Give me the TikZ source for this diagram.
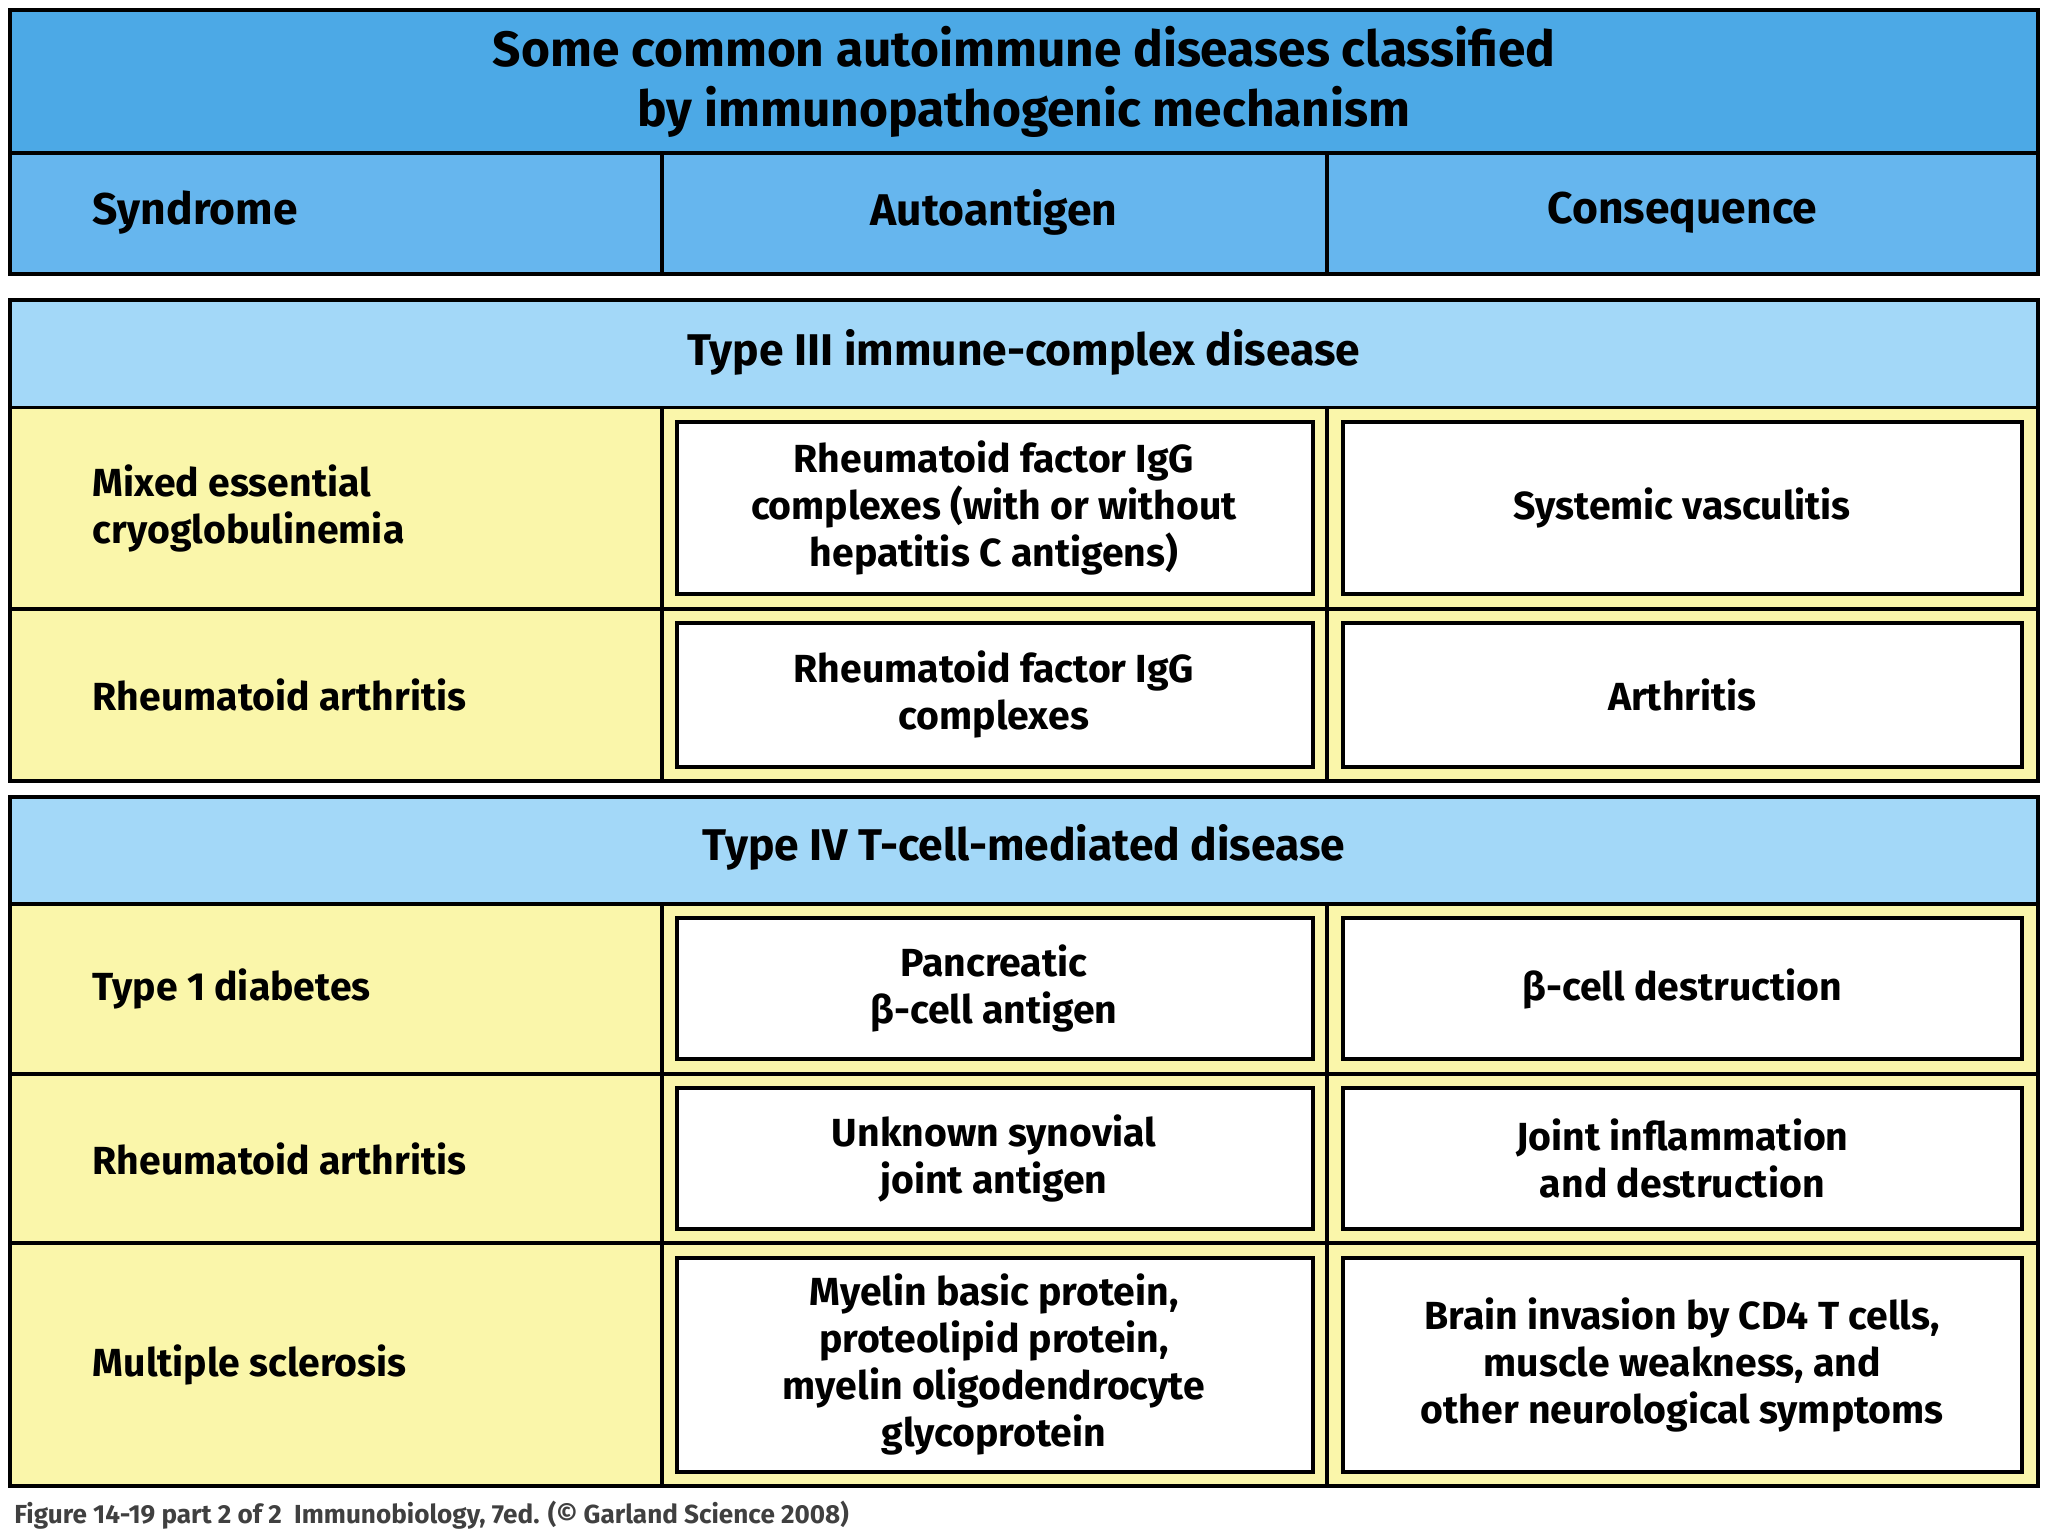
\documentclass[tikz,border=0pt]{standalone}
\usepackage{fontspec}
\setmainfont{Fira Sans}
\definecolor{tblue}{HTML}{4CA9E6}
\definecolor{hblue}{HTML}{66B6EE}
\definecolor{sblue}{HTML}{A3D8F8}
\definecolor{yel}{HTML}{FAF6AA}
\begin{document}
\begin{tikzpicture}[x=0.5pt,y=-0.5pt,
  frame/.style={draw=black,line width=1.5pt},
  inner/.style={draw=black,line width=1.5pt,fill=white},
  txt/.style={font=\fontsize{15}{18}\selectfont\bfseries,align=center},
  ltxt/.style={font=\fontsize{15}{18}\selectfont\bfseries,align=left,anchor=west}]
\useasboundingbox (0,0) rectangle (1568,1176);
\fill[white] (0,0) rectangle (1568,1176);
% title and header
\filldraw[frame,fill=tblue] (8,8) rectangle (1560,117);
\node[font=\fontsize{19}{23}\selectfont\bfseries,align=center] (title) at (784,63) {Some common autoimmune diseases classified\\by immunopathogenic mechanism};
\filldraw[frame,fill=hblue] (8,117) rectangle (507,210);
\filldraw[frame,fill=hblue] (507,117) rectangle (1016,210);
\filldraw[frame,fill=hblue] (1016,117) rectangle (1560,210);
\node[font=\fontsize{17}{20}\selectfont\bfseries,anchor=west] (h1) at (64,163) {Syndrome};
\node[font=\fontsize{17}{20}\selectfont\bfseries] (h2) at (761,163) {Autoantigen};
\node[font=\fontsize{17}{20}\selectfont\bfseries] (h3) at (1288,163) {Consequence};
% section helper rows
\def\trow#1#2#3#4#5#6{%
  \filldraw[frame,fill=yel] (8,#1) rectangle (507,#2);
  \filldraw[frame,fill=yel] (507,#1) rectangle (1016,#2);
  \filldraw[frame,fill=yel] (1016,#1) rectangle (1560,#2);
  \filldraw[inner] (518,#1+11) rectangle (1005,#2-11);
  \filldraw[inner] (1028,#1+11) rectangle (1548,#2-11);
  \node[ltxt] at (64,{(#1+#2)/2}) {#3};
  \node[txt] at (761,{(#1+#2)/2}) {#4};
  \node[txt] at (1288,{(#1+#2)/2}) {#5};}
% Type III
\filldraw[frame,fill=sblue] (8,230) rectangle (1560,312);
\node[font=\fontsize{17}{20}\selectfont\bfseries] (s3) at (784,270) {Type III immune-complex disease};
\trow{312}{466}{Mixed essential\\cryoglobulinemia}{Rheumatoid factor IgG\\complexes (with or without\\hepatitis C antigens)}{Systemic vasculitis}{}
\trow{466}{598}{Rheumatoid arthritis}{Rheumatoid factor IgG\\complexes}{Arthritis}{}
% Type IV
\filldraw[frame,fill=sblue] (8,610) rectangle (1560,692);
\node[font=\fontsize{17}{20}\selectfont\bfseries] (s4) at (784,649) {Type IV T-cell-mediated disease};
\trow{692}{822}{Type 1 diabetes}{Pancreatic\\β-cell antigen}{β-cell destruction}{}
\trow{822}{952}{Rheumatoid arthritis}{Unknown synovial\\joint antigen}{Joint inflammation\\and destruction}{}
\trow{952}{1138}{Multiple sclerosis}{Myelin basic protein,\\proteolipid protein,\\myelin oligodendrocyte\\glycoprotein}{Brain invasion by CD4 T cells,\\muscle weakness, and\\other neurological symptoms}{}
\node[font=\fontsize{10}{12}\selectfont\bfseries,anchor=west,text=black!75] (cap) at (4,1160) {Figure 14-19 part 2 of 2\ \ Immunobiology, 7ed. (© Garland Science 2008)};
\end{tikzpicture}
\end{document}
